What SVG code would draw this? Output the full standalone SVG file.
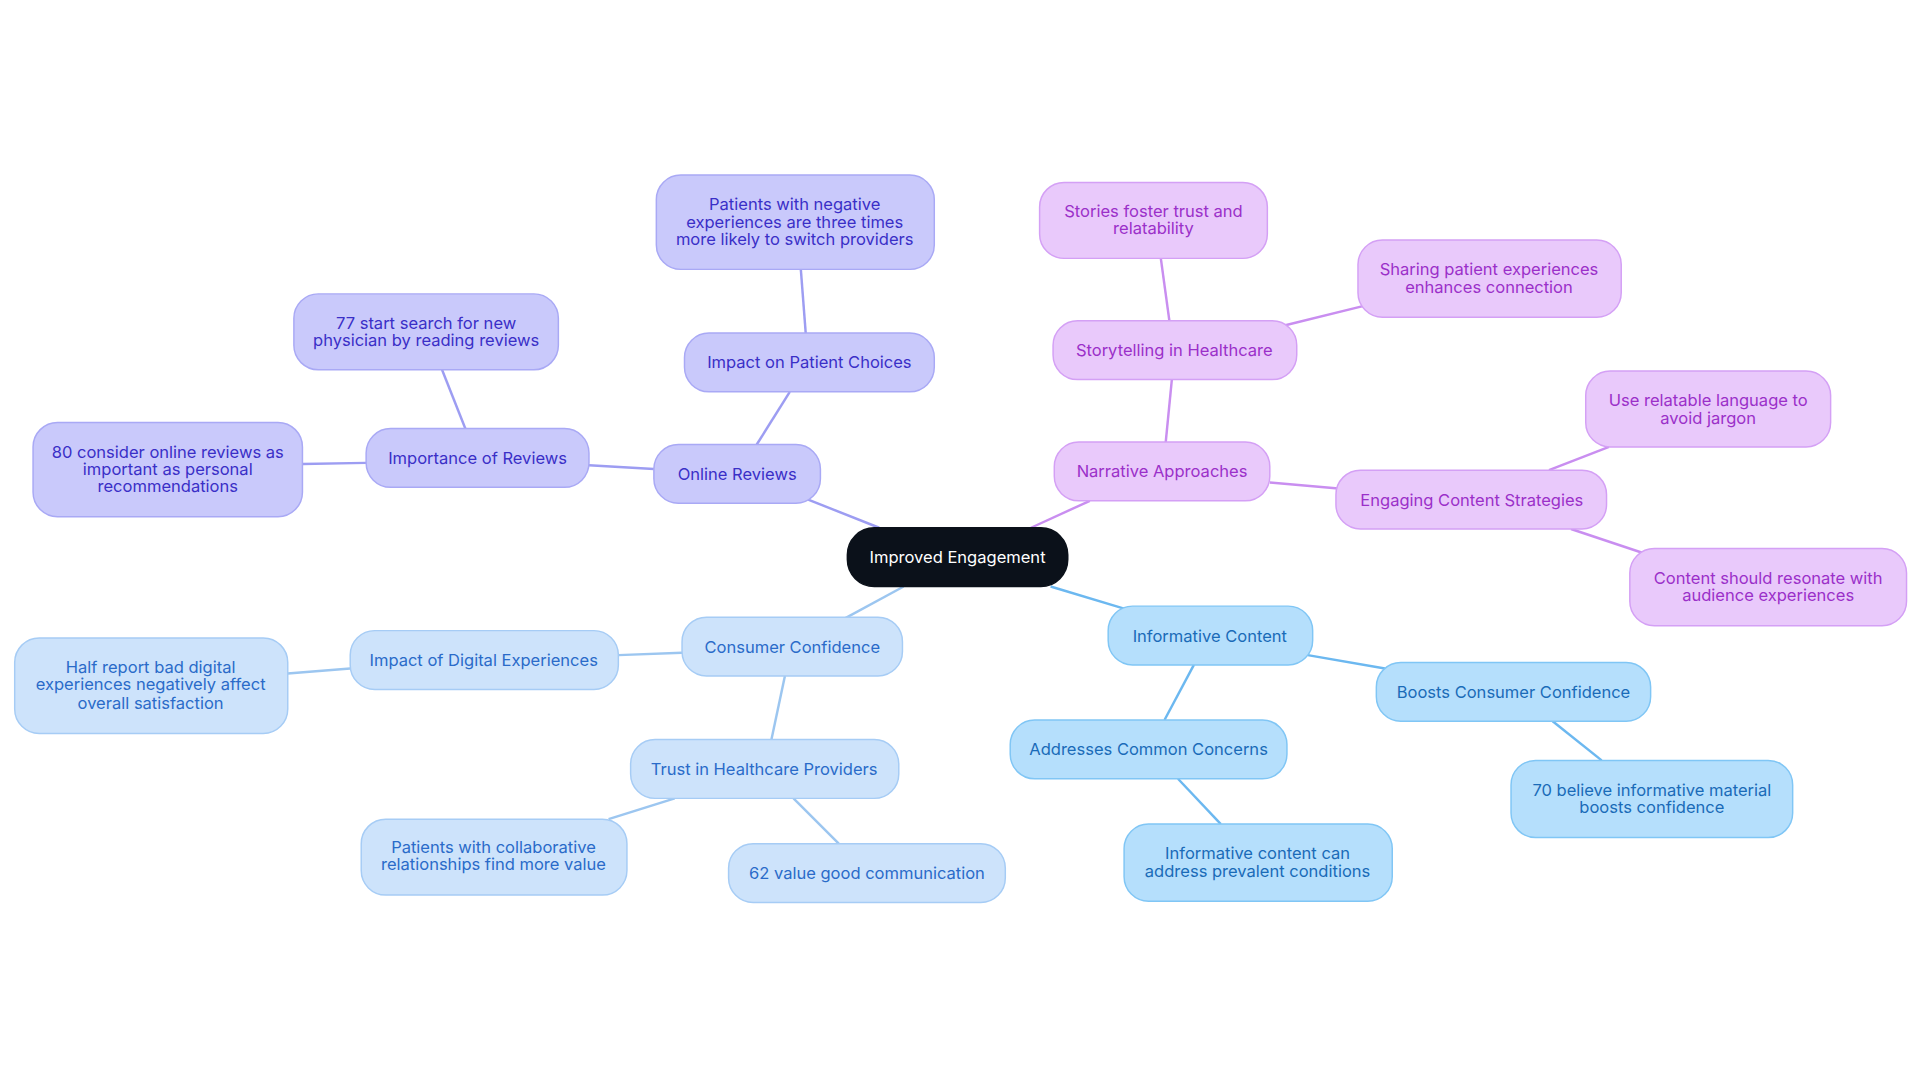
<svg xmlns="http://www.w3.org/2000/svg" width="1920" height="1083" viewBox="0 0 1920 1083">
<style>
text{font-family:Inter,"Noto Sans",sans-serif;font-size:13.5px;text-anchor:middle;dominant-baseline:central}
.c rect{fill:#0b111a;stroke:#0b111a}.c text{fill:#fff}
.a rect{fill:#c9c9fb;stroke:#a9a9f5}.a text{fill:#3a2fc7}
.b rect{fill:#e9c9fb;stroke:#d4a0f5}.b text{fill:#9b30c9}
.d rect{fill:#b5dffc;stroke:#80c6f5}.d text{fill:#1a6bb8}
.e rect{fill:#cde3fb;stroke:#a6ccf5}.e text{fill:#2a6bc9}
rect{stroke-width:1.2}
#edges line{stroke-width:2;fill:none}
.ea{stroke:#9d9df2}.eb{stroke:#c98ef0}.ed{stroke:#6cb8f0}.ee{stroke:#9cc6f0}
</style>
<rect width="1920" height="1083" fill="#fff"/>
<g transform="scale(1.2245)">
<g id="edges">
<line class="ea" x1="718" y1="431" x2="660" y2="408"/>
<line class="ea" x1="534" y1="383" x2="481" y2="380"/>
<line class="ea" x1="380" y1="350" x2="361" y2="302"/>
<line class="ea" x1="299" y1="378" x2="247" y2="379"/>
<line class="ea" x1="618" y1="363" x2="645" y2="320"/>
<line class="ea" x1="658" y1="272" x2="654" y2="220"/>
<line class="eb" x1="842" y1="431" x2="890" y2="409"/>
<line class="eb" x1="952" y1="361" x2="957" y2="310"/>
<line class="eb" x1="955" y1="262" x2="948" y2="211"/>
<line class="eb" x1="1048" y1="266" x2="1113" y2="250"/>
<line class="eb" x1="1037" y1="394" x2="1093" y2="399"/>
<line class="eb" x1="1265" y1="384" x2="1314" y2="365"/>
<line class="eb" x1="1283" y1="432" x2="1343" y2="452"/>
<line class="ed" x1="858" y1="479" x2="918" y2="497"/>
<line class="ed" x1="1068" y1="535" x2="1131" y2="546"/>
<line class="ed" x1="1268" y1="589" x2="1308" y2="621"/>
<line class="ed" x1="975" y1="543" x2="951" y2="588"/>
<line class="ed" x1="962" y1="636" x2="997" y2="673"/>
<line class="ee" x1="738" y1="479" x2="690" y2="505"/>
<line class="ee" x1="557" y1="533" x2="505" y2="535"/>
<line class="ee" x1="286" y1="546" x2="235" y2="550"/>
<line class="ee" x1="641" y1="552" x2="630" y2="604"/>
<line class="ee" x1="551" y1="652" x2="497" y2="669"/>
<line class="ee" x1="648" y1="652" x2="685" y2="689"/>
</g>
<g id="n0" class="c"><rect x="692" y="431" width="180" height="48" rx="22"/><text x="782" y="455">Improved Engagement</text></g>
<g id="n1" class="a"><rect x="534" y="363" width="136" height="48" rx="20"/><text x="602" y="387">Online Reviews</text></g>
<g id="n2" class="a"><rect x="299" y="350" width="182" height="48" rx="20"/><text x="390" y="374">Importance of Reviews</text></g>
<g id="n3" class="a"><rect x="240" y="240" width="216" height="62" rx="20"/><text x="348" y="264">77 start search for new</text><text x="348" y="278">physician by reading reviews</text></g>
<g id="n4" class="a"><rect x="27" y="345" width="220" height="77" rx="20"/><text x="137" y="369">80 consider online reviews as</text><text x="137" y="383">important as personal</text><text x="137" y="397">recommendations</text></g>
<g id="n5" class="a"><rect x="559" y="272" width="204" height="48" rx="20"/><text x="661" y="296">Impact on Patient Choices</text></g>
<g id="n6" class="a"><rect x="536" y="143" width="227" height="77" rx="20"/><text x="649" y="167">Patients with negative</text><text x="649" y="181">experiences are three times</text><text x="649" y="195">more likely to switch providers</text></g>
<g id="n7" class="b"><rect x="861" y="361" width="176" height="48" rx="20"/><text x="949" y="385">Narrative Approaches</text></g>
<g id="n8" class="b"><rect x="860" y="262" width="199" height="48" rx="20"/><text x="959" y="286">Storytelling in Healthcare</text></g>
<g id="n9" class="b"><rect x="849" y="149" width="186" height="62" rx="20"/><text x="942" y="172">Stories foster trust and</text><text x="942" y="186">relatability</text></g>
<g id="n10" class="b"><rect x="1109" y="196" width="215" height="63" rx="20"/><text x="1216" y="220">Sharing patient experiences</text><text x="1216" y="234">enhances connection</text></g>
<g id="n11" class="b"><rect x="1091" y="384" width="221" height="48" rx="20"/><text x="1202" y="408">Engaging Content Strategies</text></g>
<g id="n12" class="b"><rect x="1295" y="303" width="200" height="62" rx="20"/><text x="1395" y="327">Use relatable language to</text><text x="1395" y="341">avoid jargon</text></g>
<g id="n13" class="b"><rect x="1331" y="448" width="226" height="63" rx="20"/><text x="1444" y="472">Content should resonate with</text><text x="1444" y="486">audience experiences</text></g>
<g id="n14" class="d"><rect x="905" y="495" width="167" height="48" rx="20"/><text x="988" y="519">Informative Content</text></g>
<g id="n15" class="d"><rect x="1124" y="541" width="224" height="48" rx="20"/><text x="1236" y="565">Boosts Consumer Confidence</text></g>
<g id="n16" class="d"><rect x="1234" y="621" width="230" height="63" rx="20"/><text x="1349" y="645">70 believe informative material</text><text x="1349" y="659">boosts confidence</text></g>
<g id="n17" class="d"><rect x="825" y="588" width="226" height="48" rx="20"/><text x="938" y="612">Addresses Common Concerns</text></g>
<g id="n18" class="d"><rect x="918" y="673" width="219" height="63" rx="20"/><text x="1027" y="697">Informative content can</text><text x="1027" y="711">address prevalent conditions</text></g>
<g id="n19" class="e"><rect x="557" y="504" width="180" height="48" rx="20"/><text x="647" y="528">Consumer Confidence</text></g>
<g id="n20" class="e"><rect x="286" y="515" width="219" height="48" rx="20"/><text x="395" y="539">Impact of Digital Experiences</text></g>
<g id="n21" class="e"><rect x="12" y="521" width="223" height="78" rx="20"/><text x="123" y="545">Half report bad digital</text><text x="123" y="559">experiences negatively affect</text><text x="123" y="574">overall satisfaction</text></g>
<g id="n22" class="e"><rect x="515" y="604" width="219" height="48" rx="20"/><text x="624" y="628">Trust in Healthcare Providers</text></g>
<g id="n23" class="e"><rect x="295" y="669" width="217" height="62" rx="20"/><text x="403" y="692">Patients with collaborative</text><text x="403" y="706">relationships find more value</text></g>
<g id="n24" class="e"><rect x="595" y="689" width="226" height="48" rx="20"/><text x="708" y="713">62 value good communication</text></g>
</g>
</svg>
